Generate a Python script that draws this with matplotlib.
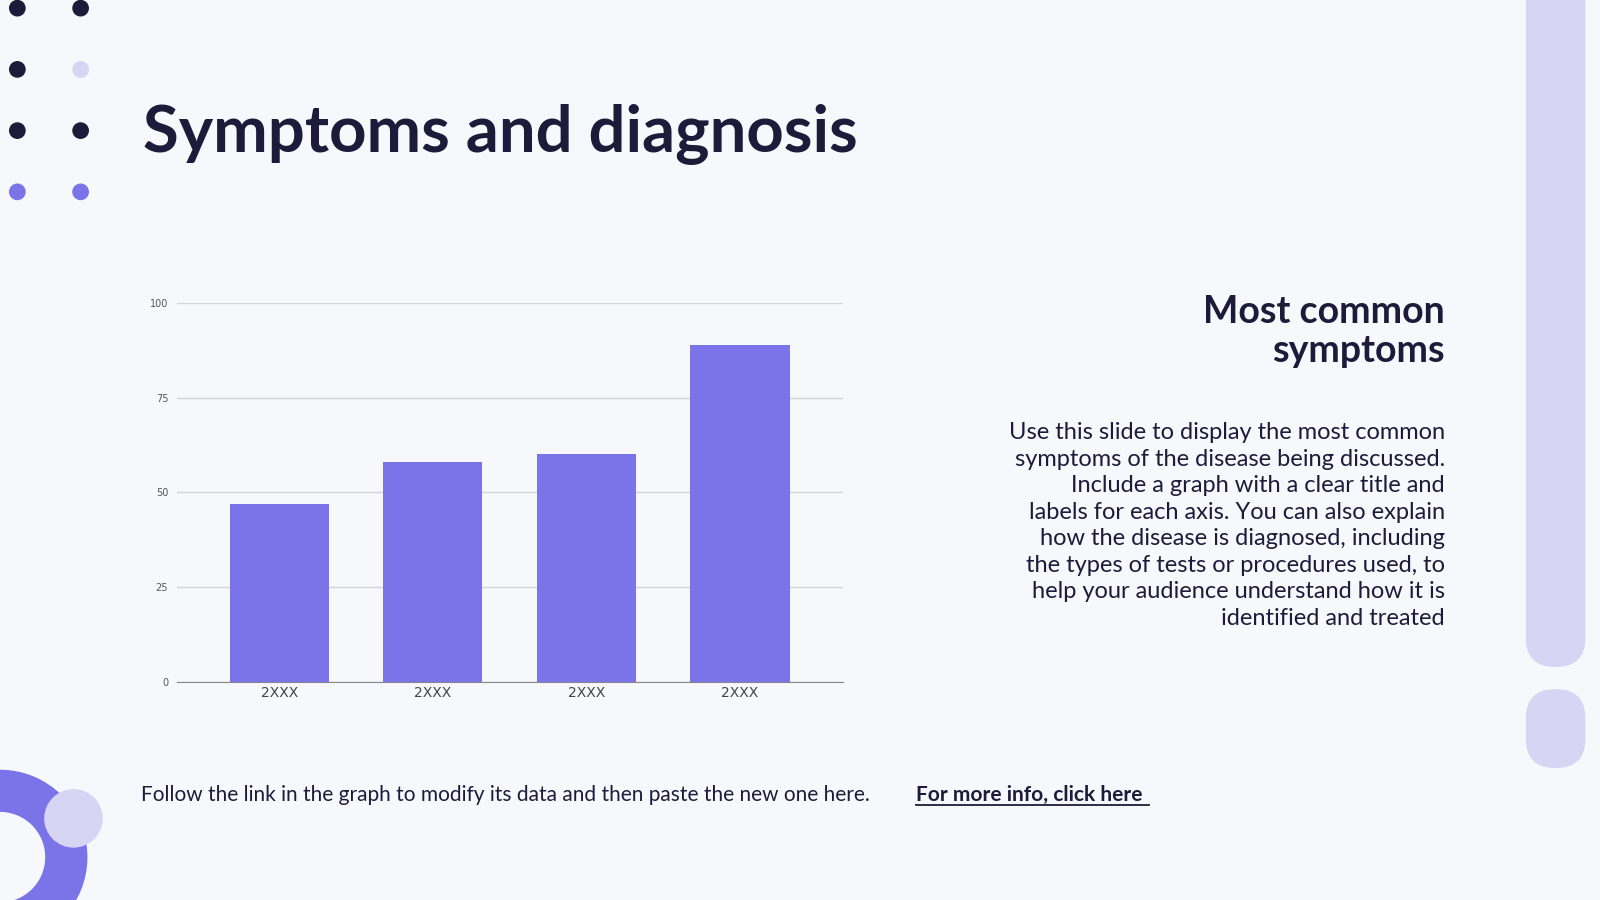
import matplotlib
matplotlib.use("Agg")
import matplotlib.pyplot as plt
from matplotlib.patches import Circle, FancyBboxPatch, Wedge

# chart data
years = ["2XXX", "2XXX", "2XXX", "2XXX"]
values = [47, 58, 60, 89]
yticks = [0, 25, 50, 75, 100]

bg = "#f7f8fc"
navy = "#1e1b3a"
purple = "#7b73e8"
lilac = "#d7d5f3"

W, H = 1568, 882
fig = plt.figure(figsize=(16, 9), dpi=100, facecolor=bg)

# background decorations in pixel coords of the slide
deco = fig.add_axes([0, 0, 1, 1])
deco.set_xlim(0, W)
deco.set_ylim(H, 0)
deco.axis("off")
deco.set_facecolor(bg)

dots = [(17, 8, navy), (79, 8, navy), (17, 68, navy), (79, 68, lilac),
        (17, 128, navy), (79, 128, navy), (17, 188, purple), (79, 188, purple)]
for x, y, c in dots:
    deco.add_patch(Circle((x, y), 7.5, color=c))

deco.add_patch(FancyBboxPatch((1496, -60), 57, 713, boxstyle="round,pad=0,rounding_size=28",
                              color=lilac))
deco.add_patch(FancyBboxPatch((1496, 676), 57, 76, boxstyle="round,pad=0,rounding_size=28",
                              color=lilac))
deco.add_patch(Wedge((0, 840), 85, 0, 360, width=40, color=purple))
deco.add_patch(Circle((72, 802), 28, color=lilac))

deco.text(140, 132, "Symptoms and diagnosis", fontsize=47, fontweight="bold",
          color=navy, va="center", ha="left", family="Lato")
deco.text(1416, 325, "Most common\nsymptoms", fontsize=27, fontweight="bold",
          color=navy, ha="right", va="center", linespacing=1.2, family="Lato")
body = ("Use this slide to display the most common\n"
        "symptoms of the disease being discussed.\n"
        "Include a graph with a clear title and\n"
        "labels for each axis. You can also explain\n"
        "how the disease is diagnosed, including\n"
        "the types of tests or procedures used, to\n"
        "help your audience understand how it is\n"
        "identified and treated")
deco.text(1416, 515, body, fontsize=17, color=navy, ha="right", va="center",
          linespacing=1.32, family="Lato")
deco.text(138, 779, "Follow the link in the graph to modify its data and then paste the new one here. ",
          fontsize=15, color=navy, va="center", family="Lato")
deco.text(898, 779, "For more info, click here", fontsize=15, color=navy, va="center",
          fontweight="bold", family="Lato")
deco.plot([898, 1126], [789, 789], color=navy, lw=1.3)

# bar chart
ax = fig.add_axes([173 / W, (H - 668) / H, 653 / W, 371 / H])
ax.set_facecolor(bg)
ax.bar(range(len(values)), values, width=0.645, color=purple, zorder=3)
ax.set_xlim(-0.67, 3.67)
ax.set_ylim(0, 100)
ax.set_yticks(yticks)
ax.set_yticklabels([str(t) for t in yticks], fontsize=7, color="#555555")
ax.set_xticks(range(len(values)))
ax.set_xticklabels(years, fontsize=10, color="#444444")
ax.grid(axis="y", color="#d4d4d8", lw=1, zorder=0)
for s in ["top", "right", "left"]:
    ax.spines[s].set_visible(False)
ax.spines["bottom"].set_color("#888888")
ax.tick_params(length=0)
ax.tick_params(axis="y", pad=6)

fig.savefig("out.png", dpi=100, facecolor=bg)
